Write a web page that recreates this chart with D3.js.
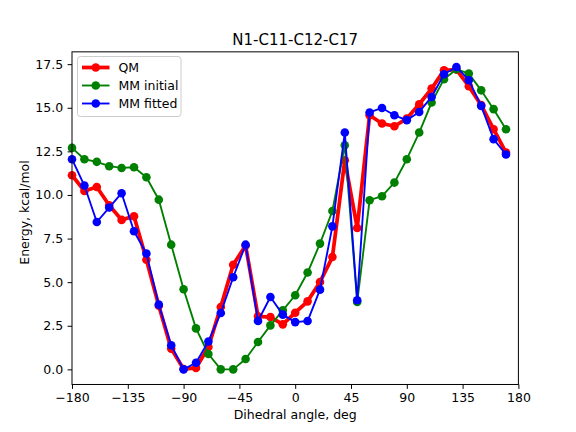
<!DOCTYPE html>
<html>
<head>
<meta charset="utf-8">
<script src="https://cdn.jsdelivr.net/npm/d3@7"></script>
<style>
  body { margin:0; background:white; }
  svg { font-family: "DejaVu Sans", sans-serif; }
</style>
</head>
<body>
<div id="chart"></div>
<script>
// dihedral angles (deg)
var angles = [-180,-170,-160,-150,-140,-130,-120,-110,-100,-90,-80,-70,-60,-50,-40,-30,-20,-10,
              0,10,20,30,40,50,60,70,80,90,100,110,120,130,140,150,160,170];
var qm = [11.13,10.23,10.46,9.41,8.57,8.78,6.29,3.65,1.19,0.02,0.08,1.28,3.58,6.0,7.1,3.04,3.0,2.58,
          3.25,3.9,5.01,6.44,11.99,8.11,14.57,14.1,13.94,14.38,15.2,16.1,17.15,17.19,16.24,15.15,13.77,12.43];
var mmInitial = [12.7,12.05,11.9,11.65,11.55,11.59,11.02,9.73,7.15,4.59,2.35,0.88,0.0,0.0,0.59,1.57,2.52,3.38,
                 4.25,5.55,7.21,9.08,12.85,3.86,9.7,9.93,10.71,12.05,13.58,15.3,16.64,17.21,16.96,16.0,14.92,13.77];
var mmFitted = [12.05,10.54,8.45,9.28,10.1,7.92,6.64,3.71,1.38,0.0,0.38,1.6,3.23,5.28,7.15,2.77,4.15,3.14,
                2.71,2.77,4.57,8.2,13.58,3.96,14.73,14.99,14.57,14.29,14.76,15.62,16.92,17.34,16.58,15.11,13.2,12.32];
var xTicks = [-180,-135,-90,-45,0,45,90,135,180];
var yTicks = [0,2.5,5,7.5,10,12.5,15,17.5];

var series = [
  {name:'QM', values:qm, color:'#ff0000', width:3.75},
  {name:'MM initial', values:mmInitial, color:'#008000', width:1.875},
  {name:'MM fitted', values:mmFitted, color:'#0000ff', width:1.875}
];

var W = 576, H = 432;
var pLeft = 72, pRight = 518.4, pTop = 51.84, pBottom = 384.48;

var all = qm.concat(mmInitial, mmFitted);
var lo = d3.min(all), hi = d3.max(all), pad = (hi - lo) * 0.05;

var x = d3.scaleLinear().domain([-180, 180]).range([pLeft, pRight]);
var y = d3.scaleLinear().domain([lo - pad, hi + pad]).range([pBottom, pTop]);

var svg = d3.select('#chart').append('svg')
  .attr('width', W).attr('height', H);

var line = d3.line()
  .x(function(d, i) { return x(angles[i]); })
  .y(function(d) { return y(d); });

var plot = svg.append('g');
series.forEach(function(s) {
  plot.append('path')
    .datum(s.values)
    .attr('d', line)
    .attr('fill', 'none')
    .attr('stroke', s.color)
    .attr('stroke-width', s.width)
    .attr('stroke-linejoin', 'round');
  plot.selectAll(null)
    .data(s.values)
    .enter().append('circle')
    .attr('cx', function(d, i) { return x(angles[i]); })
    .attr('cy', function(d) { return y(d); })
    .attr('r', 4.3)
    .attr('fill', s.color);
});

// axes
var xAxis = d3.axisBottom(x).tickValues(xTicks).tickSize(4.4).tickPadding(4.4).tickFormat(d3.format('d'));
var yAxis = d3.axisLeft(y).tickValues(yTicks).tickSize(4.4).tickPadding(4.4).tickFormat(d3.format('.1f'));

var gx = svg.append('g').attr('transform', 'translate(0,' + pBottom + ')').call(xAxis);
var gy = svg.append('g').attr('transform', 'translate(' + pLeft + ',0)').call(yAxis);
[gx, gy].forEach(function(g) {
  g.select('.domain').remove();
  g.selectAll('text').attr('font-size', 12.5).attr('fill', '#000').attr('font-family', 'DejaVu Sans');
  g.selectAll('line').attr('stroke', '#000').attr('stroke-width', 1);
});

// frame
svg.append('rect')
  .attr('x', pLeft).attr('y', pTop)
  .attr('width', pRight - pLeft).attr('height', pBottom - pTop)
  .attr('fill', 'none').attr('stroke', '#000').attr('stroke-width', 1);

// labels
svg.append('text')
  .attr('x', (pLeft + pRight) / 2).attr('y', 45)
  .attr('text-anchor', 'middle').attr('font-size', 15)
  .text('N1-C11-C12-C17');
svg.append('text')
  .attr('x', (pLeft + pRight) / 2).attr('y', 419)
  .attr('text-anchor', 'middle').attr('font-size', 12.5)
  .text('Dihedral angle, deg');
svg.append('text')
  .attr('transform', 'translate(28.5,212.5) rotate(-90)')
  .attr('text-anchor', 'middle').attr('font-size', 12.5)
  .text('Energy, kcal/mol');

// legend
var lg = svg.append('g');
lg.append('rect')
  .attr('x', 77.5).attr('y', 56.5).attr('width', 103.5).attr('height', 60)
  .attr('rx', 3).attr('fill', 'white').attr('fill-opacity', 0.8)
  .attr('stroke', '#cccccc').attr('stroke-width', 1);
series.forEach(function(s, i) {
  var yy = 67.5 + i * 18;
  lg.append('line')
    .attr('x1', 82).attr('x2', 109.5).attr('y1', yy).attr('y2', yy)
    .attr('stroke', s.color).attr('stroke-width', s.width);
  lg.append('circle')
    .attr('cx', 95.75).attr('cy', yy).attr('r', 4.3).attr('fill', s.color);
  lg.append('text')
    .attr('x', 118.5).attr('y', yy + 4.5)
    .attr('font-size', 12.5)
    .text(s.name);
});
</script>
</body>
</html>
